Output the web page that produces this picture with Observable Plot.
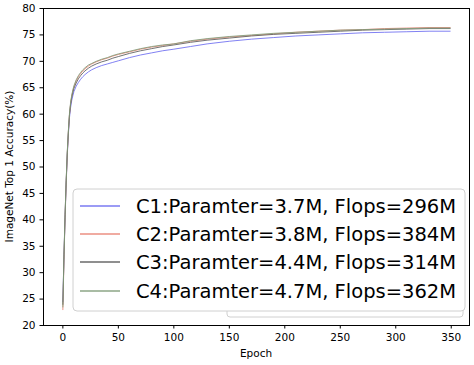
<!DOCTYPE html>
<html><head><meta charset="utf-8">
<script src="https://cdn.jsdelivr.net/npm/d3@7"></script>
<script src="https://cdn.jsdelivr.net/npm/@observablehq/plot@0.6"></script>
<style>body{margin:0;background:#fff} #chart{width:474px;height:365px}</style>
</head><body><div id="chart"></div>
<script>
const epochs = [0,1,2,3,4,5,6,7,8,9,10,12,14,16,18,20,23,26,30,35,40,45,50,60,70,80,90,100,115,130,150,170,190,210,230,250,270,290,310,330,349];
const c1 = [24.5,33,40.5,47,52.3,56.3,59.4,61.3,62.6,63.5,64.3,65.3,66.0,66.6,67.1,67.5,68.0,68.4,68.8,69.2,69.5,69.8,70.1,70.7,71.2,71.6,72.0,72.3,72.8,73.3,73.8,74.2,74.5,74.8,75.0,75.2,75.4,75.5,75.6,75.7,75.7];
const c2 = [23.0,32.5,40.5,47,52.5,56.7,60,62,63.4,64.4,65.2,66.3,67.1,67.7,68.2,68.6,69.1,69.5,69.9,70.3,70.6,71.0,71.3,71.8,72.3,72.7,73.0,73.3,73.8,74.2,74.6,74.9,75.2,75.5,75.7,75.9,76.0,76.2,76.3,76.4,76.4];
const c3 = [24,33.5,41,47.5,52.8,56.8,60,61.9,63.2,64.1,64.9,65.9,66.7,67.3,67.8,68.2,68.7,69.1,69.5,69.9,70.2,70.6,70.9,71.5,72.0,72.4,72.8,73.1,73.6,74.0,74.4,74.8,75.1,75.3,75.5,75.7,75.9,76.0,76.1,76.2,76.2];
const c4 = [23.5,33,41,47.5,53,57,60.3,62.3,63.6,64.6,65.4,66.5,67.3,67.9,68.4,68.8,69.3,69.6,70.0,70.4,70.7,71.1,71.4,71.9,72.4,72.8,73.1,73.3,73.9,74.3,74.7,75.0,75.3,75.5,75.7,75.9,76.0,76.1,76.2,76.3,76.3];
const seriesNames = ["C1:Paramter=3.7M, Flops=296M","C2:Paramter=3.8M, Flops=384M","C3:Paramter=4.4M, Flops=314M","C4:Paramter=4.7M, Flops=362M"];
const seriesColors = ["#6b6bf0","#e98373","#5a5a5a","#7f9c79"];
const xTicks = [0,50,100,150,200,250,300,350];
const yTicks = [20,25,30,35,40,45,50,55,60,65,70,75,80];
const xLabel = "Epoch";
const yLabel = "ImageNet Top 1 Accuracy(%)";

const rows = [];
[c1,c2,c3,c4].forEach((vals,i)=>vals.forEach((v,j)=>rows.push({epoch:epochs[j], acc:v, series:seriesNames[i]})));

const plot = Plot.plot({
  width:474, height:365, marginLeft:43, marginRight:5, marginTop:8, marginBottom:40,
  style:{fontFamily:"DejaVu Sans", fontSize:"10.5px", color:"#000", background:"#fff"},
  x:{domain:[-17.45,366.45]},
  y:{domain:[20,80]},
  color:{domain:seriesNames, range:seriesColors},
  marks:[
    Plot.axisX({ticks:xTicks, tickSize:3.5, tickPadding:4.5, label:null, tickFormat:d=>String(d)}),
    Plot.axisY({ticks:yTicks, tickSize:3.5, tickPadding:4.5, label:null, tickFormat:d=>String(d)}),
    Plot.line(rows,{x:"epoch", y:"acc", z:"series", stroke:"series", strokeWidth:1, strokeOpacity:0.85}),
    Plot.frame({stroke:"#000", strokeWidth:1})
  ]
});
document.getElementById("chart").appendChild(plot);

const svg = d3.select(plot);
svg.append("text").attr("x",256).attr("y",357).attr("text-anchor","middle")
  .attr("font-family","DejaVu Sans").attr("font-size","10.5px").attr("fill","#000").text(xLabel);
svg.append("text").attr("transform","translate(12.5,166.5) rotate(-90)").attr("text-anchor","middle")
  .attr("font-family","DejaVu Sans").attr("font-size","10.5px").attr("fill","#000").text(yLabel);

// legend
const lg = svg.append("g");
lg.append("rect").attr("x",227).attr("y",220).attr("width",236).attr("height",97).attr("rx",3)
  .attr("fill","#fff").attr("stroke","#d0d0d0").attr("stroke-width",1);
lg.append("rect").attr("x",73).attr("y",189).attr("width",392).attr("height",122).attr("rx",4)
  .attr("fill","#fff").attr("stroke","#d0d0d0").attr("stroke-width",1);
const ys = [206,234,262,291];
seriesNames.forEach((n,i)=>{
  lg.append("line").attr("x1",80).attr("x2",120).attr("y1",ys[i]).attr("y2",ys[i])
    .attr("stroke",seriesColors[i]).attr("stroke-width",1.3).attr("stroke-opacity",0.9);
  lg.append("text").attr("x",136).attr("y",ys[i]+7).attr("text-anchor","start").attr("font-family","DejaVu Sans")
    .attr("font-size","19.5px").attr("fill","#000").text(n);
});
</script></body></html>
